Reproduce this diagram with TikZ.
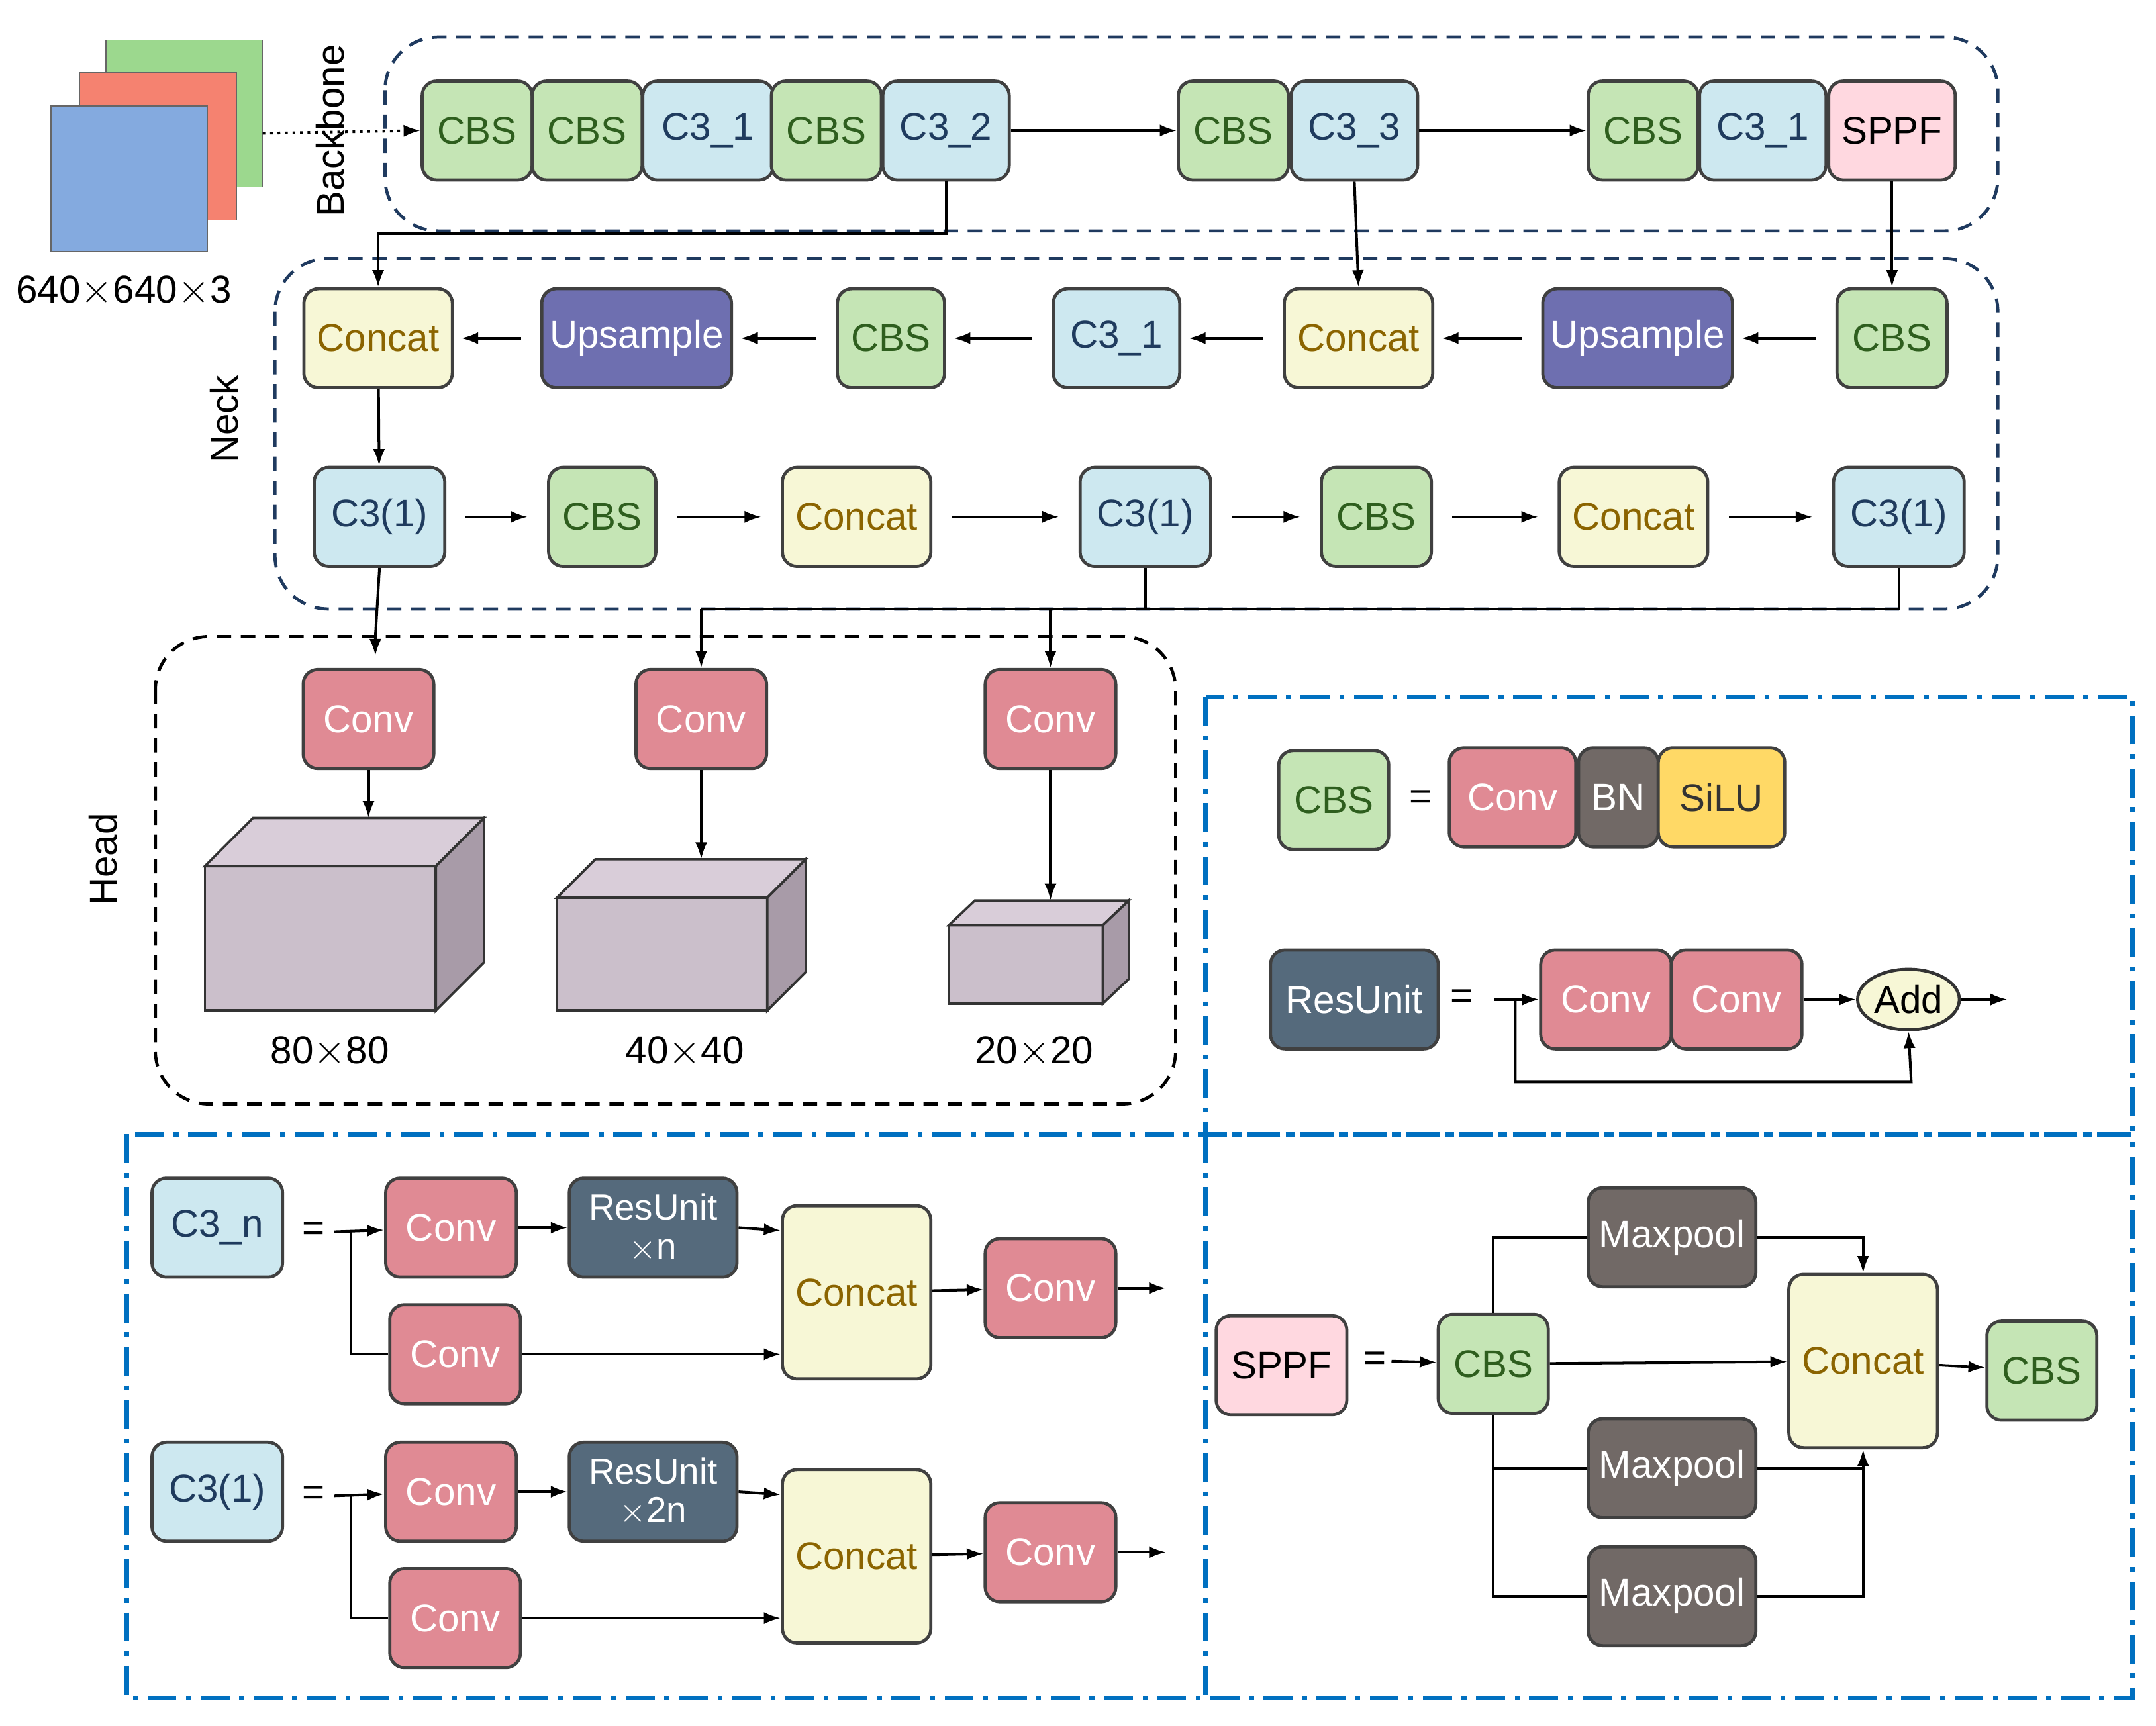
\documentclass[tikz,border=0pt]{standalone}
\usepackage{fontspec}
\setmainfont{Liberation Sans}
\usetikzlibrary{arrows.meta,shapes.geometric,calc}
\definecolor{gC}{HTML}{C5E5B5}\definecolor{gT}{HTML}{2E5E1E}
\definecolor{bC}{HTML}{CDE8F0}\definecolor{bT}{HTML}{1F3B5E}
\definecolor{rC}{HTML}{E08A94}\definecolor{yC}{HTML}{F7F7D6}\definecolor{yT}{HTML}{8B6400}
\definecolor{pC}{HTML}{6E6FB0}\definecolor{sC}{HTML}{556A7C}\definecolor{mC}{HTML}{716966}
\definecolor{siC}{HTML}{FFD966}\definecolor{spC}{HTML}{FFD8E0}\definecolor{lb}{HTML}{0070C0}
\definecolor{dn}{HTML}{1F3A5F}
\definecolor{inG}{HTML}{9CD88E}\definecolor{inR}{HTML}{F58270}\definecolor{inB}{HTML}{84AADF}
\definecolor{cf}{HTML}{CBBFCB}\definecolor{ct}{HTML}{D9CDD9}\definecolor{cs}{HTML}{A89BA8}
\begin{document}
\begin{tikzpicture}[x=0.02cm,y=-0.02cm,
 font=\fontsize{16}{18}\selectfont,
 box/.style={draw=black!75,line width=1.3pt,rounded corners=6pt,minimum height=1.44cm,minimum width=1.6cm,inner sep=1pt,align=center},
 w/.style={minimum width=#1*0.02cm},hh/.style={minimum height=#1*0.02cm},
 cbs/.style={box,fill=gC,text=gT},c3/.style={box,fill=bC,text=bT},
 conv/.style={box,fill=rC,text=white},cat/.style={box,fill=yC,text=yT,w=108},
 ups/.style={box,fill=pC,text=white,w=138},res/.style={box,fill=sC,text=white,w=122},
 mp/.style={box,fill=mC,text=white,w=122},
 ar/.style={-{Latex[length=7pt,width=5pt]},line width=1.1pt},
 ln/.style={line width=1.1pt},
 dbox/.style={dashed,line width=1.3pt,rounded corners=22pt,dash pattern=on 6pt off 4pt},
 bbox/.style={draw=lb,line width=2pt,dash pattern=on 12pt off 4pt on 2pt off 4pt}]
\useasboundingbox (0,0) rectangle (1568,1255);
% input
\fill[inG,draw=black!60] (77,29) rectangle (191,136);
\fill[inR,draw=black!60] (58,53) rectangle (172,160);
\fill[inB,draw=black!60] (37,77) rectangle (151,183);
\node (inlab) at (90,212) {640$\times$640$\times$3};
\coordinate (inr) at (191,97);
% backbone
\draw[dbox,draw=dn] (280,27) rectangle (1453,168);
\node[rotate=90] at (240,95) {Backbone};
\node[cbs,w=80] (b1) at (347,95) {CBS};
\node[cbs,w=80] (b2) at (427,95) {CBS};
\node[c3,w=95] (b3) at (515,95) {C3\_1};
\node[cbs,w=80] (b4) at (601,95) {CBS};
\node[c3,w=92] (b5) at (688,95) {C3\_2};
\node[cbs,w=80] (b6) at (897,95) {CBS};
\node[c3,w=92] (b7) at (985,95) {C3\_3};
\node[cbs,w=80] (b8) at (1195,95) {CBS};
\node[c3,w=92] (b9) at (1282,95) {C3\_1};
\node[box,fill=spC,text=black,w=92] (b10) at (1376,95) {SPPF};
\draw[ar,dotted] (inr) -- (b1.west);
\draw[ar] (b5) -- (b6); \draw[ar] (b7) -- (b8);
% neck
\draw[dbox,draw=dn] (200,188) rectangle (1453,443);
\node[rotate=90] at (163,305) {Neck};
\node[cat] (n1) at (275,246) {Concat};
\node[ups] (n2) at (463,246) {Upsample};
\node[cbs,w=78] (n3) at (648,246) {CBS};
\node[c3,w=92] (n4) at (812,246) {C3\_1};
\node[cat] (n5) at (988,246) {Concat};
\node[ups] (n6) at (1191,246) {Upsample};
\node[cbs,w=80] (n7) at (1376,246) {CBS};
\foreach \a/\b in {n7/n6,n6/n5,n5/n4,n4/n3,n3/n2,n2/n1} \draw[ar,shorten <=8pt,shorten >=3pt] (\a) -- (\b);
\node[c3,w=95] (m1) at (276,376) {C3(1)};
\node[cbs,w=78] (m2) at (438,376) {CBS};
\node[cat] (m3) at (623,376) {Concat};
\node[c3,w=95] (m4) at (833,376) {C3(1)};
\node[cbs,w=80] (m5) at (1001,376) {CBS};
\node[cat] (m6) at (1188,376) {Concat};
\node[c3,w=95] (m7) at (1381,376) {C3(1)};
\foreach \a/\b in {m1/m2,m2/m3,m3/m4,m4/m5,m5/m6,m6/m7} \draw[ar,shorten <=8pt,shorten >=8pt] (\a) -- (\b);
\draw[ar] (n1) -- (m1);
\draw[ar] (b5.south) |- (480,170) -| (n1.north);
\draw[ar] (b7.south) -- (n5.north);
\draw[ar] (b10.south) -- (n7.north);
% head
\draw[dbox] (113,463) rectangle (855,803);
\node[rotate=90] at (75,625) {Head};
\node[conv,w=95] (h1) at (268,523) {Conv};
\node[conv,w=95] (h2) at (510,523) {Conv};
\node[conv,w=95] (h3) at (764,523) {Conv};
\draw[ar] (m1.south) -- (273,463) -- (273,477);
\draw[ln] (m7.south) |- (510,443);
\draw[ln] (m4.south) -- (833,443);
\draw[ar] (510,443) -- (h2.north);
\draw[ar] (764,443) -- (h3.north);
% cuboids
\newcommand\cub[6]{%
 \fill[cf,draw=black!80,line width=1pt] (#1,#2) rectangle (#3,#4);
 \fill[ct,draw=black!80,line width=1pt] (#1,#2) -- ++(#5,-#6) -- ($(#3,#2)+(#5,-#6)$) -- (#3,#2) -- cycle;
 \fill[cs,draw=black!80,line width=1pt] (#3,#2) -- ++(#5,-#6) -- ($(#3,#4)+(#5,-#6)$) -- (#3,#4) -- cycle;}
\cub{149}{630}{317}{735}{35}{35}
\cub{405}{653}{558}{735}{28}{28}
\cub{690}{673}{802}{730}{19}{18}
\coordinate (t1) at (268,595); \coordinate (t2) at (510,625); \coordinate (t3) at (764,655);
\draw[ar] (h1) -- (t1); \draw[ar] (h2) -- (t2); \draw[ar] (h3) -- (t3);
\node at (240,765) {80$\times$80};
\node at (498,765) {40$\times$40};
\node at (752,765) {20$\times$20};
% legend frames
\draw[bbox] (877,507) rectangle (1551,825);
\draw[bbox] (92,825) rectangle (1551,1235);
\draw[bbox] (877,825) -- (877,1235);
% CBS def
\node[cbs,w=80] (l1) at (970,582) {CBS};
\node at (1033,582) {=};
\node[conv,w=92] (l2) at (1100,580) {Conv};
\node[box,fill=mC,text=white,minimum width=1.16cm] (l3) at (1177,580) {BN};
\node[box,fill=siC,text=black!80,w=92] (l4) at (1252,580) {SiLU};
% ResUnit def
\node[res] (r0) at (985,727) {ResUnit};
\node at (1063,727) {=};
\node[conv,w=95] (r1) at (1168,727) {Conv};
\node[conv,w=95] (r2) at (1263,727) {Conv};
\node[ellipse,draw=black!80,line width=1.3pt,fill=yC,minimum width=1.48cm,minimum height=0.88cm,inner sep=0pt] (ad) at (1388,727) {Add};
\coordinate (rs) at (1087,727); \coordinate (ro) at (1460,727);
\draw[ar] (rs) -- (r1); \draw[ar] (r2) -- (ad); \draw[ar] (ad) -- (ro);
\draw[ar] (1102,727) |- (1390,787) -- (ad.south);
% C3 blocks
\newcommand\cthree[4]{% y, label, resunit text, name prefix
 \node[c3,w=95] (#4a) at (158,#1) {#2};
 \node at (228,#1+3) {=};
 \coordinate (#4s) at (243,#1+3); \coordinate (#4j) at (255,#1+3);
 \node[conv,w=95] (#4b) at (328,#1) {Conv};
 \node[res,inner sep=0pt,font=\fontsize{15}{16}\selectfont] (#4c) at (475,#1) {ResUnit\\#3};
 \node[cat,hh=126] (#4d) at (623,#1+47) {Concat};
 \node[conv,w=95] (#4e) at (764,#1+44) {Conv};
 \node[conv,w=95] (#4f) at (331,#1+92) {Conv};
 \coordinate (#4o) at (848,#1+44);
 \draw[ar] (#4s) -- (#4b); \draw[ar] (#4b) -- (#4c);
 \draw[ar] (#4c.east) -- ($(#4d.north west)!0.15!(#4d.south west)$);
 \draw[ln] (#4j) |- (#4f.west);
 \draw[ar] (#4f.east) -- (#4f.east -| #4d.west);
 \draw[ar] (#4d) -- (#4e); \draw[ar] (#4e) -- (#4o);}
\cthree{893}{C3\_n}{$\times$n}{p}
\cthree{1085}{C3(1)}{$\times$2n}{q}
% SPPF
\node[box,fill=spC,text=black,w=95] (s0) at (932,993) {SPPF};
\node at (1000,990) {=};
\coordinate (ss) at (1012,990);
\node[cbs,w=80] (s1) at (1086,992) {CBS};
\node[mp] (s2) at (1216,900) {Maxpool};
\node[mp] (s3) at (1216,1068) {Maxpool};
\node[mp] (s4) at (1216,1161) {Maxpool};
\node[cat,hh=126] (s5) at (1355,990) {Concat};
\node[cbs,w=80] (s6) at (1485,997) {CBS};
\draw[ar] (ss) -- (s1);
\draw[ln] (s1.north) |- (s2.west);
\draw[ln] (s1.south) |- (s4.west);
\draw[ln] (1086,1068) -- (s3.west);
\draw[ar] (s2.east) -| (s5.north);
\draw[ar] (s1) -- (s5);
\draw[ln] (s3.east) -- (1355,1068);
\draw[ar] (s4.east) -| (s5.south);
\draw[ar] (s5) -- (s6);
\end{tikzpicture}
\end{document}
